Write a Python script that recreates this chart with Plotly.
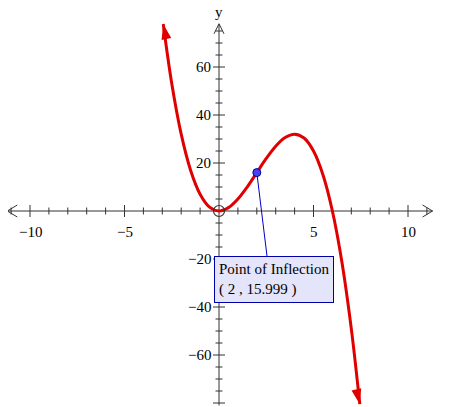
import plotly.graph_objects as go

curve_x = [-2.95, -2.5, -2, -1.5, -1, -0.5, 0, 0.5, 1, 1.5, 2, 2.5, 3, 3.5, 4, 4.5, 5, 5.5, 6, 6.5, 7, 7.45]
curve_y = [77.9, 53.1, 32, 16.9, 7, 1.6, 0, 1.4, 5, 10.1, 16, 21.9, 27, 30.6, 32, 30.4, 25, 15.1, 0, -21.1, -49, -80.5]
x_major = [-10, -5, 5, 10]
y_major = [-60, -40, -20, 20, 40, 60]
inflect_x, inflect_y = 2, 15.999
label = "Point of Inflection<br>( 2 , 15.999 )"

PX = 18.9
PY = 2.4
W, H = 442, 399
OX, OY = 211, 203
X0, X1 = -OX / PX, (W - OX) / PX
Y1, Y0 = OY / PY, -(H - OY) / PY
AX = "#333"
FONT = "Liberation Serif"

shapes = []
def seg(x0, y0, x1, y1, color=AX, w=1):
    shapes.append(dict(type="line", x0=x0, y0=y0, x1=x1, y1=y1, line=dict(color=color, width=w), layer="below"))

# axes
seg(-11.2, 0, 11.3, 0)
seg(0, -81, 0, 78)
cx, cy = 10 / PX, 6 / PY
seg(-11.2, 0, -11.2 + cx, cy); seg(-11.2, 0, -11.2 + cx, -cy)
seg(11.3, 0, 11.3 - cx, cy); seg(11.3, 0, 11.3 - cx, -cy)
cx2, cy2 = 5 / PX, 10 / PY
seg(0, 78, -cx2, 78 - cy2); seg(0, 78, cx2, 78 - cy2)
for i in range(-11, 12):
    if i == 0:
        continue
    h = (6 if i % 5 == 0 else 3.5) / PY
    seg(i, -h, i, h)
for j in range(-80, 80, 5):
    if j == 0:
        continue
    h = (6 if j % 20 == 0 else 3.5) / PX
    seg(-h, j, h, j)
# pointer line
seg(inflect_x, inflect_y, 2.54, -18.8, color="#0000cc", w=1)

annots = []
for v in x_major:
    annots.append(dict(x=v, y=-11 / PY, text=("−" if v < 0 else "") + str(abs(v)), showarrow=False,
                       yanchor="top", xanchor="center", font=dict(family=FONT, size=15, color="black")))
for v in y_major:
    annots.append(dict(x=-6 / PX, y=v, text=("−" if v < 0 else "") + str(abs(v)), showarrow=False,
                       yanchor="middle", xanchor="right", font=dict(family=FONT, size=15, color="black")))
annots.append(dict(x=11.8, y=0, text="x", showarrow=False, xanchor="left",
                   yanchor="middle", font=dict(family=FONT, size=15, color="black")))
annots.append(dict(x=0, y=83, text="y", showarrow=False, xanchor="center", yanchor="middle",
                   font=dict(family=FONT, size=15, color="black")))
annots.append(dict(x=-0.26, y=-18.8, text=label, showarrow=False, xanchor="left", yanchor="top", align="left",
                   bgcolor="#e4e4fa", bordercolor="#0000aa", borderwidth=1, borderpad=4,
                   font=dict(family=FONT, size=15, color="black")))

fig = go.Figure()
fig.add_trace(go.Scatter(x=curve_x, y=curve_y, mode="lines", line=dict(color="#e00000", width=3, shape="spline"),
                         hoverinfo="skip"))
fig.add_trace(go.Scatter(x=[curve_x[0], curve_x[-1]], y=[curve_y[0], curve_y[-1]], mode="markers",
                         marker=dict(symbol="arrow", size=16, color="#e00000",
                                     angle=[-12, 167]), hoverinfo="skip"))
fig.add_trace(go.Scatter(x=[0], y=[0], mode="markers",
                         marker=dict(symbol="circle-open", size=11, color="#333", line=dict(width=1.2))))
fig.add_trace(go.Scatter(x=[inflect_x], y=[inflect_y], mode="markers",
                         marker=dict(symbol="circle", size=8, color="#4444ee", line=dict(color="#0000aa", width=1))))
fig.update_layout(width=W, height=H, margin=dict(l=0, r=0, t=0, b=0), showlegend=False,
                  plot_bgcolor="white", paper_bgcolor="white", shapes=shapes, annotations=annots,
                  xaxis=dict(range=[X0, X1], visible=False),
                  yaxis=dict(range=[Y0, Y1], visible=False))
fig.write_html("out.html")
